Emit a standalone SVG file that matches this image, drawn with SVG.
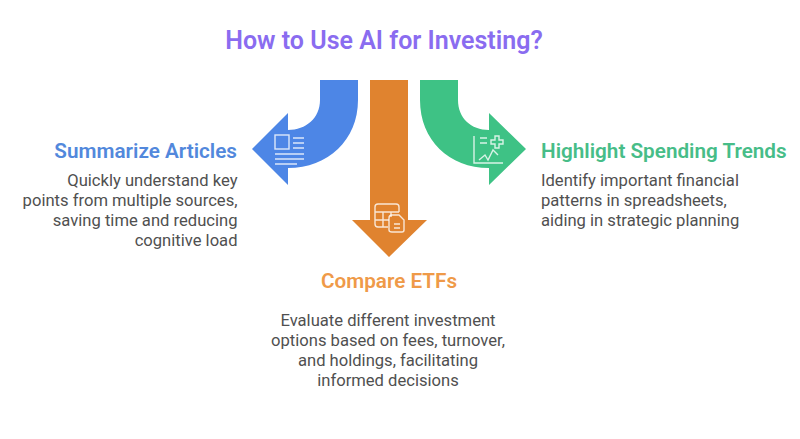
<svg xmlns="http://www.w3.org/2000/svg" width="800" height="439" viewBox="0 0 800 439">
<style>
text{font-family:Roboto,"Liberation Sans",sans-serif}
.t{font-size:20.7px;font-weight:600}
.b{font-size:16.6px;fill:#505050}
.i{fill:none;stroke:#fff;stroke-opacity:.8;stroke-width:1.4}
</style>
<rect width="800" height="439" fill="#fff"/>
<text x="384" y="49" text-anchor="middle" style="font-size:25px;font-weight:600" fill="#8a6cf0">How to Use AI for Investing?</text>
<g id="connectors">
<path id="arrow-blue" d="M320 80H358V100C358 140 328 168 288 168V185L252 149L288 113V130C306 130 320 118 320 100Z" fill="#4d86e6"/>
<path id="arrow-orange" d="M370 80H408V220H427L389 257L352 220H370Z" fill="#e0832f"/>
<path id="arrow-green" d="M420 80H458V100C458 118 471 130 489 130V113L526 149L489 185V168C449 168 420 140 420 100Z" fill="#3ec285"/>
</g>
<g id="node-summarize">
<rect class="i" x="275" y="135" width="14" height="14"/>
<path class="i" d="M293 138H304M293 143H304M293 148H304M275 154H304M275 159H304M275 164H297"/>
<text class="t" x="237" y="158" text-anchor="end" fill="#5288dc">Summarize Articles</text>
<text class="b" text-anchor="end"><tspan x="237.5" y="186">Quickly understand key</tspan><tspan x="237.5" y="206">points from multiple sources,</tspan><tspan x="237.5" y="226">saving time and reducing</tspan><tspan x="237.5" y="246">cognitive load</tspan></text>
</g>
<g id="node-compare">
<path class="i" d="M388 227H378Q375 227 375 224V207Q375 204 378 204H396Q399 204 399 207V212M375 212H399M375 220H389M383 212V227M391 212V217"/>
<path class="i" d="M389 218Q389 215 392 215H399L404 220V230Q404 232 402 232H392Q389 232 389 230ZM394 224H400M394 228H400"/>
<text class="t" x="389" y="288" text-anchor="middle" fill="#ef9a48">Compare ETFs</text>
<text class="b" text-anchor="middle"><tspan x="388" y="326">Evaluate different investment</tspan><tspan x="388" y="346">options based on fees, turnover,</tspan><tspan x="388" y="366">and holdings, facilitating</tspan><tspan x="388" y="386">informed decisions</tspan></text>
</g>
<g id="node-highlight">
<path class="i" d="M474 136V163H503M480 138H487M480 143H487M479 160L485 155L488 160L493 150L498 155"/>
<path class="i" d="M495 136H499V140H503V144H499V148H495V144H491V140H495Z"/>
<text class="t" x="541" y="158" fill="#47bd88">Highlight Spending Trends</text>
<text class="b"><tspan x="541" y="186">Identify important financial</tspan><tspan x="541" y="206">patterns in spreadsheets,</tspan><tspan x="541" y="226">aiding in strategic planning</tspan></text>
</g>
</svg>
